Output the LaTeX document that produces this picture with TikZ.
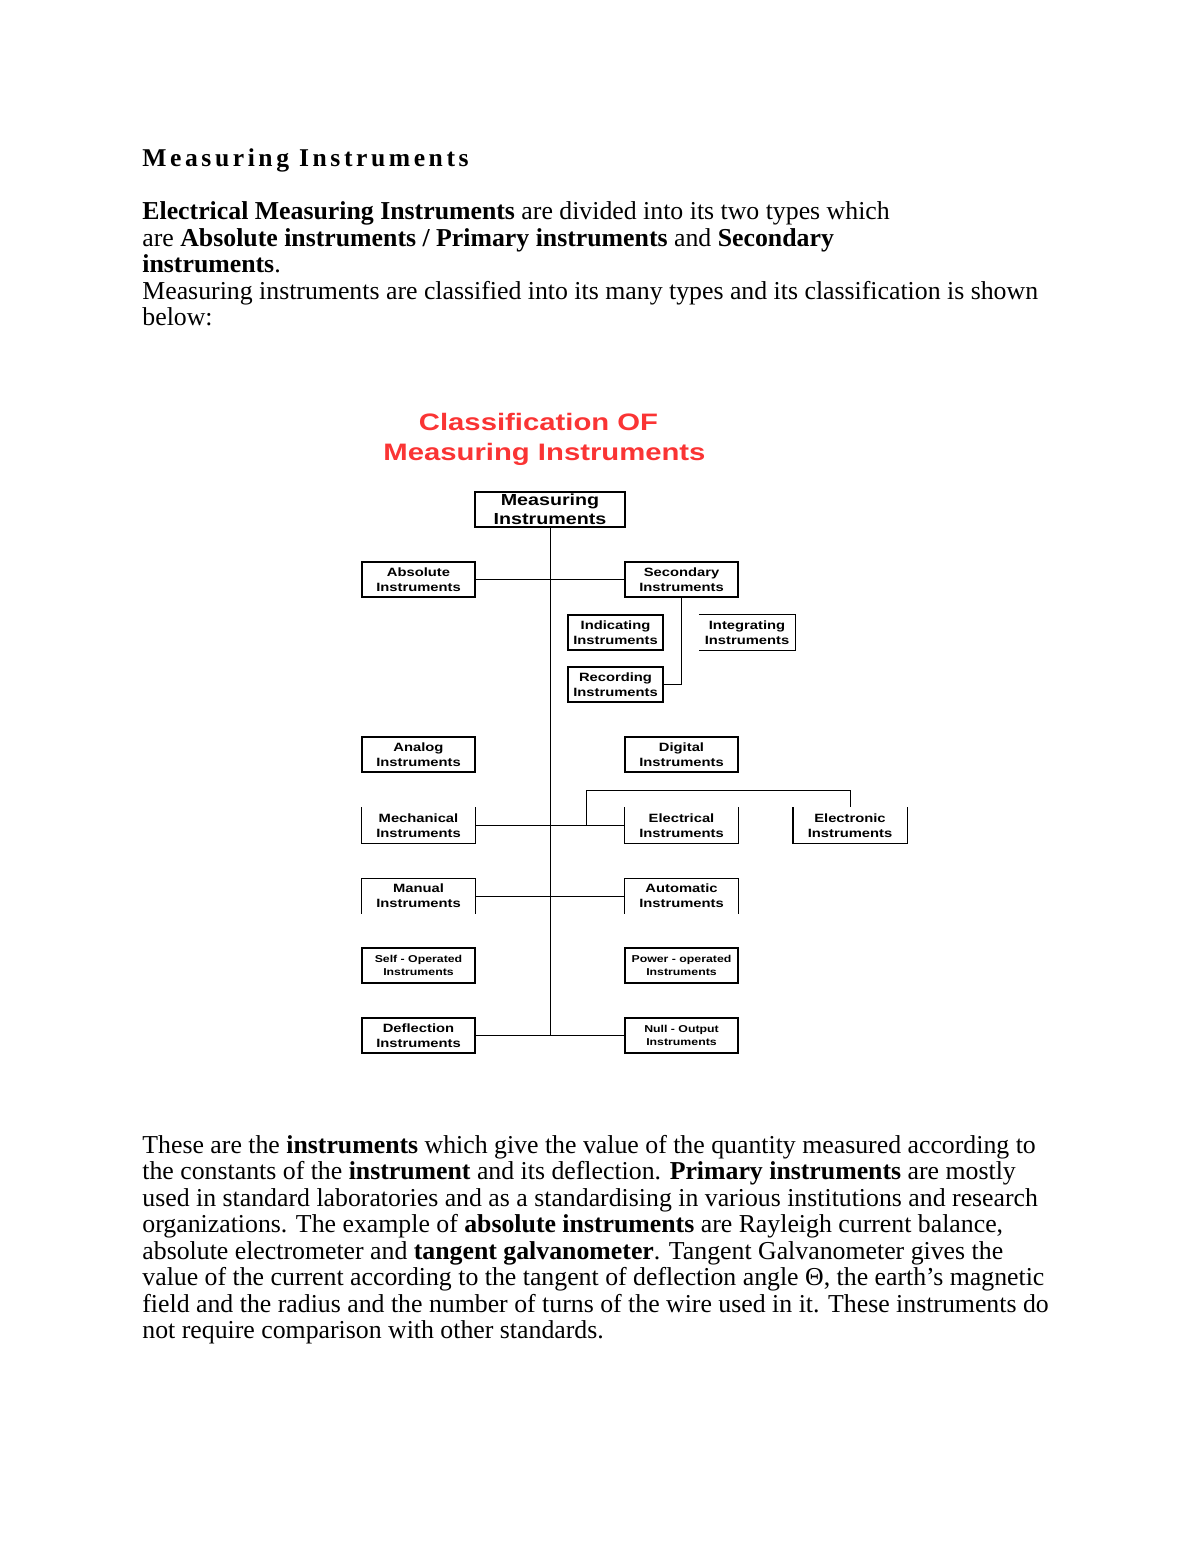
\documentclass[tikz,border=0pt]{standalone}
\usepackage{fontspec}
\setmainfont{Liberation Serif}
\newfontfamily\headfont{Liberation Serif}[LetterSpace=14]
\newfontfamily\boxfont{Liberation Sans}[FakeStretch=1.23]
\newfontfamily\titlefont{Liberation Sans}[FakeStretch=1.23]
\definecolor{titlered}{RGB}{250,52,52}
\begin{document}
\begin{tikzpicture}[x=0.5pt,y=-0.5pt,
  txt/.style={anchor=base west, inner sep=0, font=\fontsize{12.9}{15}\selectfont},
  ttl/.style={anchor=base, inner sep=0, text=titlered, font=\titlefont\bfseries\fontsize{11.9}{14}\selectfont},
  box/.style={draw, line width=0.6pt, minimum width=56.5pt, minimum height=17.5pt, inner sep=0pt, align=center,
    font=\boxfont\bfseries\fontsize{6}{7.5}\selectfont},
  openbox/.style={box, draw=none},
  small/.style={minimum width=47.5pt},
  tiny/.style={font=\boxfont\bfseries\fontsize{5}{6.5}\selectfont},
  conn/.style={line width=0.5pt}]
\useasboundingbox (0,0) rectangle (1200,1553);

% heading and intro text
\node[anchor=base west, inner sep=0, font=\headfont\bfseries\fontsize{12.8}{15}\selectfont] (head) at (142,166) {Measuring Instruments};
\node[txt] (l1) at (142,219) {\textbf{Electrical Measuring Instruments} are divided into its two types which};
\node[txt] (l2) at (142,246) {are \textbf{Absolute instruments / Primary instruments} and \textbf{Secondary}};
\node[txt] (l3) at (142,272) {\textbf{instruments}.};
\node[txt] (l4) at (142,299) {Measuring instruments are classified into its many types and its classification is shown};
\node[txt] (l5) at (142,325) {below:};

% title
\node[ttl] (t1) at (538.5,430) {Classification OF};
\node[ttl] (t2) at (544.5,460) {Measuring Instruments};

% boxes
\node[box, minimum width=75pt, font=\boxfont\bfseries\fontsize{8}{9.5}\selectfont] (meas) at (550,509.5) {Measuring\\Instruments};
\node[box] (abs) at (418.5,579.5) {Absolute\\Instruments};
\node[box] (sec) at (681.5,579.5) {Secondary\\Instruments};
\node[box, small] (ind) at (615.5,632.5) {Indicating\\Instruments};
\node[openbox, small] (integ) at (747,632.5) {Integrating\\Instruments};
\node[box, small] (rec) at (615.5,684.5) {Recording\\Instruments};
\node[box] (analog) at (418.5,754.5) {Analog\\Instruments};
\node[box] (digital) at (681.5,754.5) {Digital\\Instruments};
\node[openbox] (mech) at (418.5,825.5) {Mechanical\\Instruments};
\node[openbox] (elec) at (681.5,825.5) {Electrical\\Instruments};
\node[openbox] (elecn) at (850,825.5) {Electronic\\Instruments};
\node[openbox, minimum height=17pt] (manual) at (418.5,896) {Manual\\Instruments};
\node[openbox, minimum height=17pt] (auto) at (681.5,896) {Automatic\\Instruments};
\node[box, tiny] (self) at (418.5,965.5) {Self - Operated\\Instruments};
\node[box, tiny] (power) at (681.5,965.5) {Power - operated\\Instruments};
\node[box] (defl) at (418.5,1035.5) {Deflection\\Instruments};
\node[box, tiny] (null) at (681.5,1035.5) {Null - Output\\Instruments};

% open-sided borders
\draw[line width=0.6pt] (integ.north west) -- (integ.north east) -- (integ.south east) -- (integ.south west);
\foreach \n in {mech,elec,elecn}
  \draw[line width=0.6pt] (\n.north west) -- (\n.south west) -- (\n.south east) -- (\n.north east);
\foreach \n in {manual,auto}
  \draw[line width=0.6pt] (\n.south west) -- (\n.north west) -- (\n.north east) -- (\n.south east);

% connectors
\draw[conn] (meas.south) -- (meas.south |- defl.east);
\draw[conn] (abs.east) -- (sec.west);
\draw[conn] (sec.south) -- (sec.south |- rec.east) -- (rec.east);
\draw[conn] (mech.east) -- (elec.west);
\coordinate (brk) at (586,825.5);
\draw[conn] (brk) -- (586,790) -| (elecn.north);
\draw[conn] (manual.east) -- (auto.west);
\draw[conn] (defl.east) -- (null.west);

% closing text
\node[txt] (p1) at (142,1153) {These are the \textbf{instruments} which give the value of the quantity measured according to};
\node[txt] (p2) at (142,1179.5) {the constants of the \textbf{instrument} and its deflection. \textbf{Primary instruments} are mostly};
\node[txt] (p3) at (142,1206) {used in standard laboratories and as a standardising in various institutions and research};
\node[txt] (p4) at (142,1232.5) {organizations. The example of \textbf{absolute instruments} are Rayleigh current balance,};
\node[txt] (p5) at (142,1259) {absolute electrometer and \textbf{tangent galvanometer}. Tangent Galvanometer gives the};
\node[txt] (p6) at (142,1285.5) {value of the current according to the tangent of deflection angle Θ, the earth’s magnetic};
\node[txt] (p7) at (142,1312) {field and the radius and the number of turns of the wire used in it. These instruments do};
\node[txt] (p8) at (142,1338.5) {not require comparison with other standards.};
\end{tikzpicture}
\end{document}
